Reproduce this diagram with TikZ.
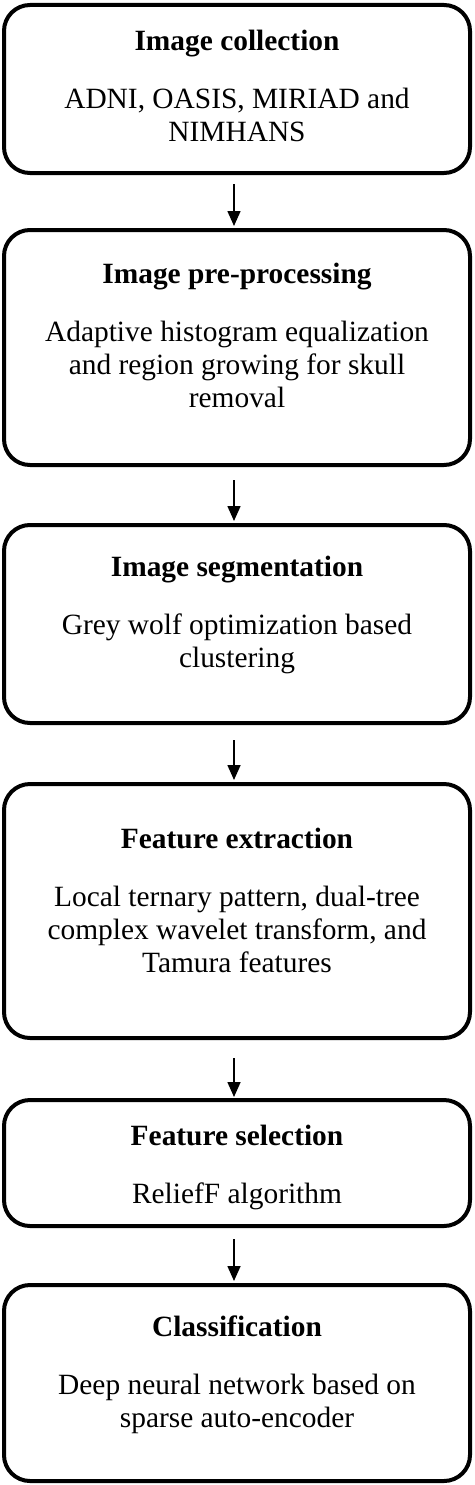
\documentclass[tikz,border=0pt]{standalone}
\usepackage{fontspec}
\setmainfont{Liberation Serif}
\usetikzlibrary{arrows.meta}
\begin{document}
\begin{tikzpicture}[x=1pt,y=1pt,
  stepbox/.style={draw=black, line width=4pt, rounded corners=26pt, rectangle,
    minimum width=466pt, inner sep=0pt, outer sep=0pt, anchor=north},
  txt/.style={align=center, inner sep=0pt, anchor=base,
    font=\fontsize{29.4}{33}\selectfont},
  arr/.style={line width=1.6pt, -{Triangle[width=13pt,length=15pt]}}]
\useasboundingbox (0,0) rectangle (474,-1485);
\node[stepbox, minimum height=168pt] (b1) at (237,-5) {};
\node[stepbox, minimum height=235pt] (b2) at (237,-230) {};
\node[stepbox, minimum height=198pt] (b3) at (237,-525) {};
\node[stepbox, minimum height=254pt] (b4) at (237,-784) {};
\node[stepbox, minimum height=126pt] (b5) at (237,-1100) {};
\node[stepbox, minimum height=196pt] (b6) at (237,-1285) {};
% anchor=base is the baseline of the last line
\node[txt] (t1) at (237,-142) {\textbf{Image collection}\\[25pt]ADNI, OASIS, MIRIAD and\\NIMHANS};
\node[txt] (t2) at (237,-407) {\textbf{Image pre-processing}\\[25pt]Adaptive histogram equalization\\and region growing for skull\\removal};
\node[txt] (t3) at (237,-667) {\textbf{Image segmentation}\\[25pt]Grey wolf optimization based\\clustering};
\node[txt] (t4) at (237,-972) {\textbf{Feature extraction}\\[25pt]Local ternary pattern, dual-tree\\complex wavelet transform, and\\Tamura features};
\node[txt] (t5) at (237,-1203) {\textbf{Feature selection}\\[25pt]ReliefF algorithm};
\node[txt] (t6) at (237,-1427) {\textbf{Classification}\\[25pt]Deep neural network based on\\sparse auto-encoder};
\draw[arr] ([xshift=-3pt,yshift=-11pt]b1.south) -- ([xshift=-3pt,yshift=4pt]b2.north);
\draw[arr] ([xshift=-3pt,yshift=-15pt]b2.south) -- ([xshift=-3pt,yshift=4pt]b3.north);
\draw[arr] ([xshift=-3pt,yshift=-17pt]b3.south) -- ([xshift=-3pt,yshift=4pt]b4.north);
\draw[arr] ([xshift=-3pt,yshift=-20pt]b4.south) -- ([xshift=-3pt,yshift=3pt]b5.north);
\draw[arr] ([xshift=-3pt,yshift=-13pt]b5.south) -- ([xshift=-3pt,yshift=4pt]b6.north);
\end{tikzpicture}
\end{document}
